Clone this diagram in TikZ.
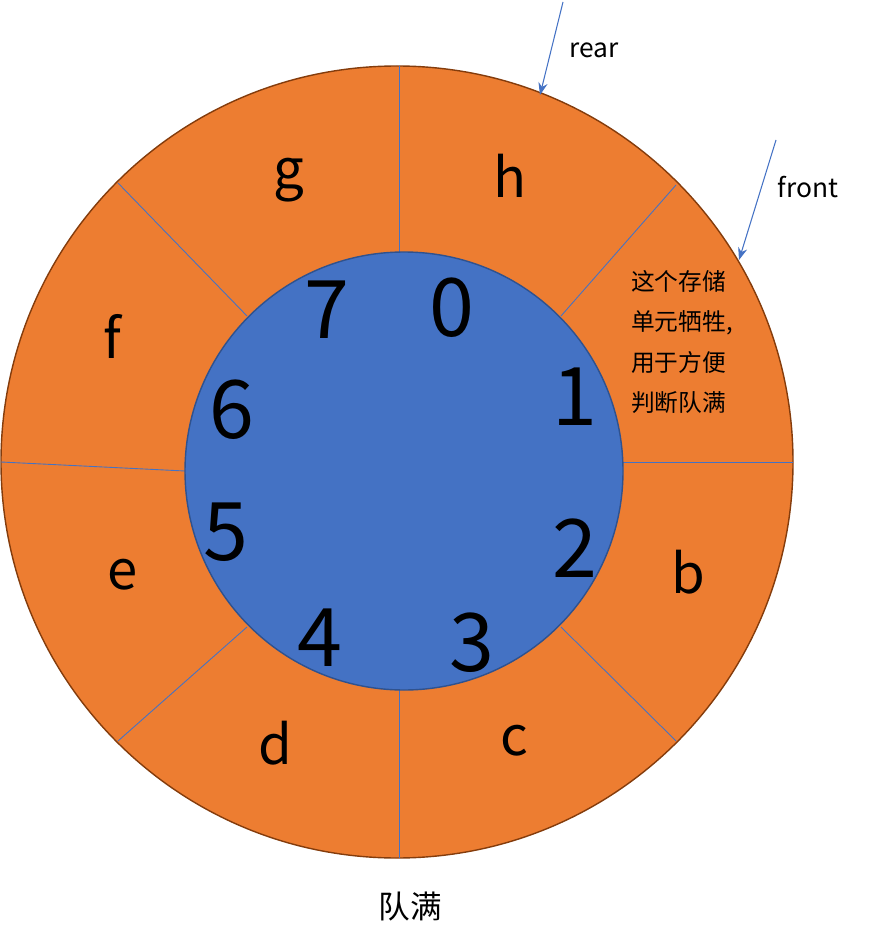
\documentclass[tikz,border=0pt]{standalone}
\usepackage{fontspec}
\setmainfont{Noto Sans CJK SC}
\usetikzlibrary{positioning,arrows.meta}
\definecolor{cellorange}{HTML}{ED7D31}
\definecolor{coreblue}{HTML}{4472C4}
\definecolor{rimbrown}{HTML}{843C0C}
\definecolor{corenavy}{HTML}{2F528F}
\tikzset{
  slot/.style={font=\fontsize{31}{31}\selectfont},
  idx/.style={font=\fontsize{46}{46}\selectfont},
  tag/.style={font=\fontsize{15}{15}\selectfont},
  split/.style={coreblue, line width=0.5pt},
  ptr/.style={coreblue, line width=0.6pt, -{Stealth[length=7pt]}}
}
\begin{document}
\begin{tikzpicture}[x=0.02cm,y=-0.02cm]
        \useasboundingbox (0,0) rectangle (877,952);
        % ring and core
        \draw[rimbrown, fill=cellorange, line width=0.8pt] (397,462) circle (396);
        \draw[split] (399,66) -- (399,252);
        \draw[split] (399,690) -- (399,858);
        \draw[split] (623,462) -- (793,462);
        \draw[split] (1,462) -- (185,471);
        \draw[split] (118,183) -- (247,316);
        \draw[split] (676,185) -- (561,316);
        \draw[split] (118,741) -- (247,627);
        \draw[split] (676,741) -- (561,627);
        \draw[corenavy, fill=coreblue, line width=0.8pt] (404,471) circle (219);

        % cell contents
        \node[slot] (h) at (510,176) {h};
        \node[slot] (g) at (289,180) {g};
        \node[slot] (f) at (112,336) {f};
        \node[slot] (e) at (123,575) {e};
        \node[slot] (d) at (275,743) {d};
        \node[slot] (c) at (514,741) {c};
        \node[slot] (b) at (688,572) {b};

        % indices
        \node[idx] (i0) at (452,308) {0};
        \node[idx] (i1) at (575,397) {1};
        \node[idx] (i2) at (575,548) {2};
        \node[idx] (i3) at (472,643) {3};
        \node[idx] (i4) at (320,638) {4};
        \node[idx] (i5) at (226,532) {5};
        \node[idx] (i6) at (232,410) {6};
        \node[idx] (i7) at (327,310) {7};

        \node[font=\fontsize{13.5}{23}\selectfont, align=left] (note) at (682,342) {这个存储\\单元牺牲,\\用于方便\\判断队满};

        % pointers
        \node[tag] (rear) at (594,50) {rear};
        \node[tag] (front) at (808,187) {front};
        \coordinate (rearfrom) at (563,2);
        \coordinate (rearto) at (540,95);
        \coordinate (frontfrom) at (776,140);
        \coordinate (frontto) at (739,260);
        \draw[ptr] (rearfrom) -- (rearto);
        \draw[ptr] (frontfrom) -- (frontto);

        \node[font=\fontsize{18}{18}\selectfont] (caption) at (410,907) {队满};
\end{tikzpicture}
\end{document}
